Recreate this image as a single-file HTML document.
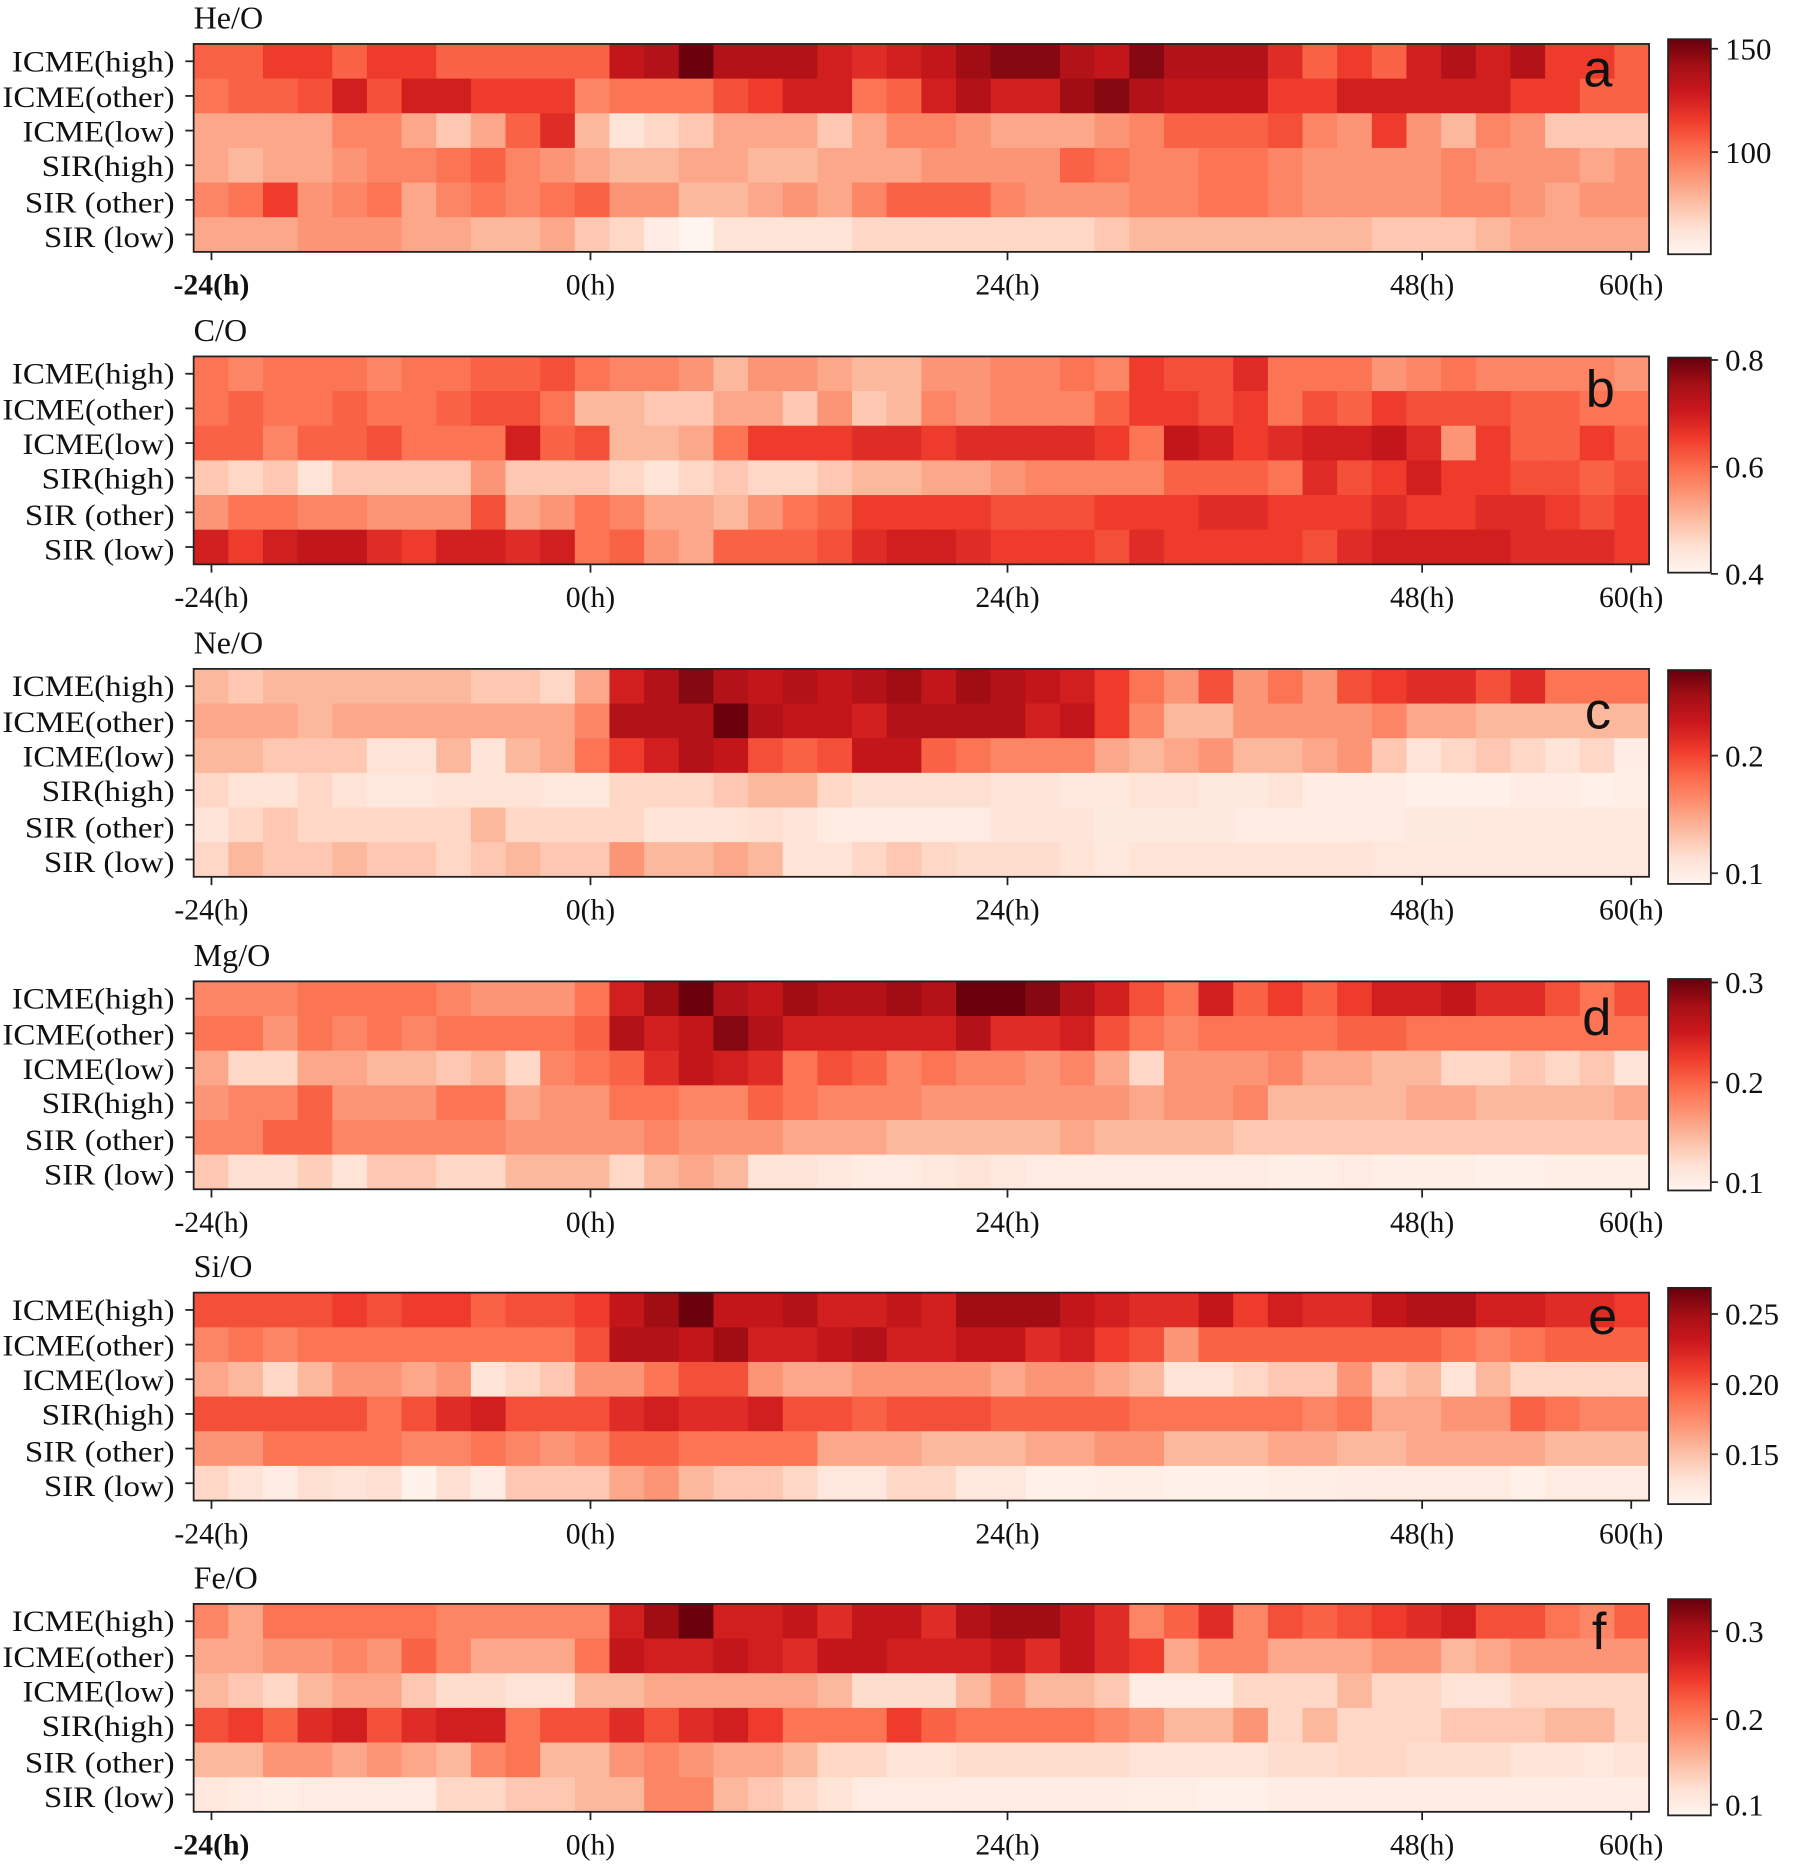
<!DOCTYPE html>
<html><head><meta charset="utf-8"><style>
html,body{margin:0;padding:0;background:#fff;}
svg{display:block;}
text{font-family:"Liberation Serif",serif;fill:#111;}
.lab{font-size:25px;text-anchor:end;}
.tk{font-size:25px;text-anchor:middle;}
.cbt{font-size:26px;}
.ttl{font-size:27px;}
text.let{font-family:"Liberation Sans",sans-serif;font-size:44px;text-anchor:middle;}
</style></head><body>
<svg id="s" width="1794" height="1866" viewBox="0 0 1510 1570.6" preserveAspectRatio="none" xmlns="http://www.w3.org/2000/svg">
<defs>
<linearGradient id="cm" x1="0" y1="1" x2="0" y2="0">
<stop offset="0" stop-color="#fff5f0"/><stop offset="0.125" stop-color="#fee0d2"/><stop offset="0.25" stop-color="#fcbba1"/><stop offset="0.375" stop-color="#fc9272"/><stop offset="0.5" stop-color="#fb6a4a"/><stop offset="0.625" stop-color="#ef3b2c"/><stop offset="0.75" stop-color="#cb181d"/><stop offset="0.875" stop-color="#a50f15"/><stop offset="1" stop-color="#67000d"/>
</linearGradient>
</defs>
<g id="cells"></g>
<g fill="none" stroke="#222" stroke-width="1.5">
<rect x="163" y="37" width="1225" height="175"/><rect x="163" y="300" width="1225" height="175"/><rect x="163" y="563" width="1225" height="175"/><rect x="163" y="826" width="1225" height="175"/><rect x="163" y="1088" width="1225" height="175"/><rect x="163" y="1350" width="1225" height="175"/>
</g>
<g id="ticks" stroke="#222" stroke-width="1.5"></g>
<g stroke="#222" stroke-width="1.5">
<rect x="1404" y="33" width="36" height="181" fill="url(#cm)"/>
<rect x="1404" y="301" width="36" height="181" fill="url(#cm)"/>
<rect x="1404" y="564" width="36" height="180" fill="url(#cm)"/>
<rect x="1404" y="824" width="36" height="178" fill="url(#cm)"/>
<rect x="1404" y="1084" width="36" height="182" fill="url(#cm)"/>
<rect x="1404" y="1346" width="36" height="182" fill="url(#cm)"/>
<path d="M1440 41h6M1440 128h6M1440 303h6M1440 393h6M1440 483h6M1440 636h6M1440 735h6M1440 827h6M1440 911h6M1440 995h6M1440 1106h6M1440 1165h6M1440 1224h6M1440 1373h6M1440 1447h6M1440 1519h6"/>
</g>
<g class="cbt">
<text x="1452" y="50">150</text><text x="1452" y="137">100</text>
<text x="1452" y="312">0.8</text><text x="1452" y="402">0.6</text><text x="1452" y="492">0.4</text>
<text x="1452" y="645">0.2</text><text x="1452" y="744">0.1</text>
<text x="1452" y="836">0.3</text><text x="1452" y="920">0.2</text><text x="1452" y="1004">0.1</text>
<text x="1452" y="1115">0.25</text><text x="1452" y="1174">0.20</text><text x="1452" y="1233">0.15</text>
<text x="1452" y="1382">0.3</text><text x="1452" y="1456">0.2</text><text x="1452" y="1528">0.1</text>
</g>
<g class="ttl">
<text x="163" y="24">He/O</text><text x="163" y="287">C/O</text><text x="163" y="550">Ne/O</text><text x="163" y="813">Mg/O</text><text x="163" y="1075">Si/O</text><text x="163" y="1337">Fe/O</text>
</g>
<g>
<text class="let" x="1345" y="73">a</text><text class="let" x="1347" y="342">b</text><text class="let" x="1345" y="613">c</text><text class="let" x="1344" y="871">d</text><text class="let" x="1349" y="1123">e</text><text class="let" x="1346" y="1388">f</text>
</g>
<g id="labs" class="lab"></g>
<g class="tk">
<text x="178" y="248" font-weight="bold">-24(h)</text><text x="497" y="248">0(h)</text><text x="848" y="248">24(h)</text><text x="1197" y="248">48(h)</text><text x="1373" y="248">60(h)</text>
<text x="178" y="511">-24(h)</text><text x="497" y="511">0(h)</text><text x="848" y="511">24(h)</text><text x="1197" y="511">48(h)</text><text x="1373" y="511">60(h)</text>
<text x="178" y="774">-24(h)</text><text x="497" y="774">0(h)</text><text x="848" y="774">24(h)</text><text x="1197" y="774">48(h)</text><text x="1373" y="774">60(h)</text>
<text x="178" y="1037">-24(h)</text><text x="497" y="1037">0(h)</text><text x="848" y="1037">24(h)</text><text x="1197" y="1037">48(h)</text><text x="1373" y="1037">60(h)</text>
<text x="178" y="1299">-24(h)</text><text x="497" y="1299">0(h)</text><text x="848" y="1299">24(h)</text><text x="1197" y="1299">48(h)</text><text x="1373" y="1299">60(h)</text>
<text x="178" y="1561" font-weight="bold">-24(h)</text><text x="497" y="1561">0(h)</text><text x="848" y="1561">24(h)</text><text x="1197" y="1561">48(h)</text><text x="1373" y="1561">60(h)</text>
</g>
<g class="lab">
<text x="147" y="60" textLength="137" lengthAdjust="spacingAndGlyphs">ICME(high)</text><text x="147" y="90" textLength="145" lengthAdjust="spacingAndGlyphs">ICME(other)</text><text x="147" y="119" textLength="128" lengthAdjust="spacingAndGlyphs">ICME(low)</text><text x="147" y="148" textLength="112" lengthAdjust="spacingAndGlyphs">SIR(high)</text><text x="147" y="179" textLength="126" lengthAdjust="spacingAndGlyphs">SIR (other)</text><text x="147" y="208" textLength="110" lengthAdjust="spacingAndGlyphs">SIR (low)</text>
<text x="147" y="323" textLength="137" lengthAdjust="spacingAndGlyphs">ICME(high)</text><text x="147" y="353" textLength="145" lengthAdjust="spacingAndGlyphs">ICME(other)</text><text x="147" y="382" textLength="128" lengthAdjust="spacingAndGlyphs">ICME(low)</text><text x="147" y="411" textLength="112" lengthAdjust="spacingAndGlyphs">SIR(high)</text><text x="147" y="442" textLength="126" lengthAdjust="spacingAndGlyphs">SIR (other)</text><text x="147" y="471" textLength="110" lengthAdjust="spacingAndGlyphs">SIR (low)</text>
<text x="147" y="586" textLength="137" lengthAdjust="spacingAndGlyphs">ICME(high)</text><text x="147" y="616" textLength="145" lengthAdjust="spacingAndGlyphs">ICME(other)</text><text x="147" y="645" textLength="128" lengthAdjust="spacingAndGlyphs">ICME(low)</text><text x="147" y="674" textLength="112" lengthAdjust="spacingAndGlyphs">SIR(high)</text><text x="147" y="705" textLength="126" lengthAdjust="spacingAndGlyphs">SIR (other)</text><text x="147" y="734" textLength="110" lengthAdjust="spacingAndGlyphs">SIR (low)</text>
<text x="147" y="849" textLength="137" lengthAdjust="spacingAndGlyphs">ICME(high)</text><text x="147" y="879" textLength="145" lengthAdjust="spacingAndGlyphs">ICME(other)</text><text x="147" y="908" textLength="128" lengthAdjust="spacingAndGlyphs">ICME(low)</text><text x="147" y="937" textLength="112" lengthAdjust="spacingAndGlyphs">SIR(high)</text><text x="147" y="968" textLength="126" lengthAdjust="spacingAndGlyphs">SIR (other)</text><text x="147" y="997" textLength="110" lengthAdjust="spacingAndGlyphs">SIR (low)</text>
<text x="147" y="1111" textLength="137" lengthAdjust="spacingAndGlyphs">ICME(high)</text><text x="147" y="1141" textLength="145" lengthAdjust="spacingAndGlyphs">ICME(other)</text><text x="147" y="1170" textLength="128" lengthAdjust="spacingAndGlyphs">ICME(low)</text><text x="147" y="1199" textLength="112" lengthAdjust="spacingAndGlyphs">SIR(high)</text><text x="147" y="1230" textLength="126" lengthAdjust="spacingAndGlyphs">SIR (other)</text><text x="147" y="1259" textLength="110" lengthAdjust="spacingAndGlyphs">SIR (low)</text>
<text x="147" y="1373" textLength="137" lengthAdjust="spacingAndGlyphs">ICME(high)</text><text x="147" y="1403" textLength="145" lengthAdjust="spacingAndGlyphs">ICME(other)</text><text x="147" y="1432" textLength="128" lengthAdjust="spacingAndGlyphs">ICME(low)</text><text x="147" y="1461" textLength="112" lengthAdjust="spacingAndGlyphs">SIR(high)</text><text x="147" y="1492" textLength="126" lengthAdjust="spacingAndGlyphs">SIR (other)</text><text x="147" y="1521" textLength="110" lengthAdjust="spacingAndGlyphs">SIR (low)</text>
</g>
</svg>
<script>
var D=[
[
"5 5 6 6 5 6 6 5 5 5 5 5 7.5 8 9.5 8 8 8 7 6.5 7 7.5 8.5 9 9 8 7.5 9 8 8 8 6.5 5 6 5 7 8 7 8 6 6 5",
"4.5 5 5 5.5 7 5.5 7 7 6 6 6 4 4.5 4.5 4.5 5.5 6 7 7 4.5 5 7 8 7 7 8.5 9 8 7.5 7.5 7.5 6 6 7 7 7 7 7 6 6 5 5",
"3 3 3 3 4 4 3 2 3 5 6.5 2.5 1 1.5 2 3 3 3 2 3 4 4 3.5 3 3 3 3.5 4 5 5 5 5.5 4 3.5 6 3.5 2.5 4 3.5 2 2 2",
"3 2.5 3 3 3.5 4 4 4.5 5 4 3.5 3 2.5 2.5 3 3 2.5 2.5 3 3 3 3.5 3.5 3.5 3.5 5 4.5 4 4 4.5 4.5 4 3.5 3.5 3.5 3.5 4 3.5 3.5 3.5 3 3.5",
"4 4.5 6 3.5 4 4.5 3 4 4.5 4 4.5 5 3.5 3.5 2.5 2.5 3 3.5 3 4 5 5 5 4 3.5 3.5 3.5 4 4 4.5 4.5 4 3.5 3.5 3.5 3.5 4 4 3.5 3 3.5 3.5",
"3 3 3 3.5 3.5 3.5 3 3 2.5 2.5 3 2 1.5 0.5 0 1 1 1 1 1.5 1.5 1.5 1.5 1.5 1.5 1.5 2 2.5 2.5 2.5 2.5 2.5 2.5 2.5 2 2 2 2.5 3 3 3 3"],
[
"4.5 4 4.5 4.5 4.5 4 4.5 4.5 5 5 5.5 4.5 4 4 3.5 2.5 3.5 3.5 3 2.5 2.5 3.5 3.5 4 4 4.5 4 6 5.5 5.5 6.5 4.5 4.5 4.5 3.5 4 4.5 4 4 4 4 3.5",
"4.5 5 4.5 4.5 5 4.5 4.5 5 5.5 5.5 4.5 2.5 2.5 2 2 3 3 2 3.5 2 2.5 4 3.5 4 4 4 5 6 6 5.5 6 4.5 5.5 5 6 5.5 5.5 5.5 5 5 4.5 4.5",
"5 5 4 5 5 5.5 4.5 4.5 4.5 7 5 5.5 2.5 2.5 3 4.5 6 6 6 6.5 6.5 6 6.5 6.5 6.5 6.5 6 4.5 7.5 7 6 6.5 7 7 7.5 6.5 3.5 6 5 5 6 5",
"2 1.5 2 1 2 2 2 2 3.5 2 2 2 1.5 1 1.5 2 1.5 1.5 2 2.5 2.5 3 3 3.5 4 4 4 4 5 5 5 4.5 6.5 5.5 6 7 6 6 5.5 5.5 5 5.5",
"3.5 4.5 4.5 4 4 3.5 3.5 3.5 5.5 3 3.5 4.5 4 3 3 2.5 3.5 4.5 5 6 6 6 6 5.5 5.5 5.5 6 6 6 6.5 6.5 6 6 6 6.5 6 6 6.5 6.5 6 5.5 6",
"7 6 7 7.5 7.5 6.5 6 7 7 6.5 7 4.5 5 3.5 3 5 5 5 5.5 6.5 7 7 6.5 6 6 6 5.5 6.5 6 6 6 6 5.5 6.5 7 7 7 7 6.5 6.5 6.5 6"],
[
"2.5 2 2.5 2.5 2.5 2.5 2.5 2.5 2 2 1.5 3 7 8 9 8 7.5 8 7.5 8 8.5 7.5 8.5 8 7.5 7 6 4.5 3.5 5.5 3.5 4.5 3.5 5.5 6 6.5 6.5 5.5 6.5 4.5 4.5 4.5",
"3 3 3 2.5 3 3 3 3 3 3 3 4 8 8 8 9.5 8 7.5 7.5 7 8 8 8 8 7 7.5 6 4 2.5 2.5 3.5 3.5 3.5 3.5 4 3 3 2.5 2.5 2.5 2.5 2.5",
"2.5 2.5 2 2 2 1 1 2.5 1 2.5 3 4.5 6 7 8 7.5 5.5 5 5.5 7.5 7.5 5 4.5 4 4 4 3 2.5 3 3.5 2.5 2.5 3 3.5 2 1 1.5 2 1.5 1 1.5 0.5",
"1.5 1 1 1.5 1 0.8 0.8 1 1 1 0.8 0.8 1.5 1.5 1.5 2 2.5 2.5 1.5 1.2 1.2 1.2 1.2 1 1 0.8 0.8 1 1 0.7 0.7 1 0.5 0.5 0.5 0.3 0.3 0.3 0.5 0.5 0.3 0.4",
"1 1.5 2 1.5 1.5 1.5 1.5 1.5 2.5 1.5 1.5 1.5 1.5 1 1 1 1.2 1 0.6 0.6 0.6 0.6 0.6 0.9 0.9 0.9 0.7 0.7 0.7 0.7 0.6 0.6 0.6 0.6 0.6 0.7 0.7 0.8 0.8 0.8 0.8 0.8",
"1.5 2.5 2 2 2.5 2 2 1.5 2 2.5 2 2 3.5 2.5 2.5 3 2.5 1 1 1.5 2 1.5 1.3 1.3 1.3 1 0.8 1 1 1 1 1 1 1 0.8 0.8 0.8 0.8 0.8 0.8 0.8 0.8"],
[
"4 4 4 4.5 4.5 4.5 4.5 4 3.5 3.5 3.5 4.5 7 8.5 9.5 8 7.5 8.5 8 8 8.5 8 9.5 9.5 9 8 7 5.5 4.5 7 5 6 5 6 7 7 7.5 6.5 6.5 5.5 4.5 5.5",
"4.5 4.5 3.5 4.5 4 4.5 4 4.5 4.5 4.5 4.5 5 8 7 7.5 9 8 7 7 7 7 7 8 6.5 6.5 7 5.5 4.5 4 4.5 4.5 4.5 4.5 5 5 4.5 4.5 4.5 4.5 4.5 4.5 4.5",
"3 1.5 1.5 3 3 2.5 2.5 2 2.5 1.5 4 4.5 5 6.5 7.5 7 6.5 4.5 5.5 5 4 4.5 4 4 3.5 4 3 1.5 3.5 3.5 3.5 4 3 3 2.5 2.5 1.5 1.5 2 1.5 2 1",
"3.5 4 4 5 3.5 3.5 3.5 4.5 4.5 3 3.5 3.5 4.5 4.5 4 4 5 4.5 4 4 4 3.5 3.5 3.5 3.5 3.5 3.5 3 3.5 3.5 4 2.5 2.5 2.5 2.5 3 3 2.5 2.5 2.5 2.5 3",
"4 4 5 5 4 4 4 4 4 3.5 3.5 3.5 3.5 4 3.5 3.5 3.5 3 3 3 2.5 2.5 2.5 2.5 2.5 3 2.5 2.5 2.5 2.5 2 2 2 2 2 2 2 2 2 2 2 2",
"2 1.2 1.2 1.8 1 2 2 1.5 1.5 2.5 2.5 2.5 1.5 2.5 3 2.5 1 1 0.8 0.6 0.6 0.8 1 0.8 0.6 0.6 0.6 0.6 0.6 0.6 0.6 0.4 0.4 0.6 0.4 0.4 0.4 0.3 0.3 0.4 0.4 0.4"],
[
"5.5 5.5 5.5 5.5 6 5.5 6 6 5 5.5 5.5 6 7.5 8.5 9.5 7.5 7.5 8 7 7 7.5 7 8.5 8.5 8.5 7.5 7 6.5 6.5 7.5 6 7 6.5 6.5 7.5 8 8 7 7 6.5 6.5 6",
"4 4.5 4 4.5 4.5 4.5 4.5 4.5 4.5 4.5 4.5 5.5 8 8 7.5 8.5 7 7 7.5 8 7 7 7.5 7.5 6.5 7 6 5.5 3.5 5 5 5 5 5 5 5 4.5 4 4.5 5 5 5",
"3 2.5 1.5 2.5 3.5 3.5 3 3.5 1 1.5 2 3.5 3.5 4.5 5.5 5.5 3.5 3 3 3.5 3.5 3.5 3.5 3 3.5 3.5 3 2.5 1 1 1.5 2 2 3.5 2 2.5 1 2.5 1.5 1.5 1.5 1.5",
"5.5 5.5 5.5 5.5 5.5 4.5 5.5 6.5 7 5.5 5.5 5.5 6.5 7 6.5 6.5 7 5.5 5.5 5 5.5 5.5 5.5 5 5 5 5 4.5 4.5 4.5 4.5 4.5 4 4.5 3 3 3.5 3.5 5 4.5 4 4",
"3.5 3.5 4.5 4.5 4.5 4.5 4 4 4.5 4 3.5 4 5 5 4.5 4.5 4.5 4.5 3 3 3 2.5 2.5 2.5 3 3 3.5 3.5 2.5 2.5 2.5 3 3 2.5 2.5 3 3 3 3 2.5 2.5 2.5",
"1.5 1 0.5 1.2 1 1.2 0.2 1.2 0.5 2 2 2 3 3.5 2.5 2 2 1.5 0.8 0.8 1.5 1.5 0.8 0.8 0.3 0.3 0.4 0.4 0.3 0.3 0.3 0.4 0.4 0.5 0.6 0.6 0.6 0.6 0.3 0.6 0.6 0.6"],
[
"4 3 4.5 4.5 4.5 4.5 4.5 4 4 4 4 4 7 8.5 9.5 7 7 7.5 6.5 7.5 7.5 6.5 8 8.5 8.5 7.5 6.5 4 5 6.5 4 5.5 5 5.5 6 6.5 7 5.5 5.5 4.5 4 5",
"3 3 3.5 3.5 4 3.5 5 4 3 3 3 4.5 7.5 7 7 7.5 7 6.5 7.5 7.5 7 7 7 7.5 6.5 7.5 6.5 6 3 4 4 3 3 3 3.5 3.5 2.5 3 3.5 3.5 3.5 3.5",
"2.5 2 1.5 2.5 3 3 2 1.3 1.3 1 1 2.5 2.5 3 3 3 3 3 2.5 1.3 1.3 1.3 2.5 3.5 2.5 2.5 2 0.6 0.6 0.6 1.5 1.5 1.5 2.5 1.5 1.5 1 1 1.5 1.5 1.5 1.5",
"5.5 6 5 6.5 7 5.5 6.5 7 7 4.5 5.5 5.5 6.5 5.5 6.5 7 6 4.5 4.5 4.5 6 5 4.5 4.5 4.5 4.5 4 3.5 2.5 2.5 3.5 1.5 2.5 1.5 1.5 1.5 2 2 2 2.5 2.5 1.5",
"2.5 2.5 3.5 3.5 3 3.5 3 2.5 4 4.5 2.5 2.5 3.5 4 3.5 3 3 2.5 1.5 1.5 1 1 1.3 1.3 1.3 1.3 1.3 1 1 1 1 1.3 1.3 1.5 1.5 1.3 1.3 1.3 1 1 0.8 1",
"0.8 0.6 0.4 0.6 0.6 0.6 0.6 1.5 1.5 2 2 2.5 2.5 4 4 2.5 2 1.5 1 0.6 0.6 0.6 0.5 0.5 0.5 0.5 0.5 0.4 0.4 0.3 0.3 0.5 0.5 0.5 0.5 0.5 0.5 0.5 0.5 0.5 0.5 0.5"]
];
var S=[[255,245,240],[254,224,210],[252,187,161],[252,146,114],[251,106,74],[239,59,44],[203,24,29],[165,15,21],[103,0,13]];
function col(t){t=Math.max(0,Math.min(1,t))*8;var i=Math.min(7,Math.floor(t)),f=t-i,a=S[i],b=S[i+1];
return "rgb("+[0,1,2].map(function(k){return Math.round(a[k]+(b[k]-a[k])*f)}).join(",")+")";}
var tops=[37,300,563,826,1088,1350],g=document.getElementById("cells"),tk=document.getElementById("ticks");
var cw=1225/42,rh=175/6,out="";
for(var p=0;p<6;p++){for(var r=0;r<6;r++){var v=D[p][r].split(/\s+/).map(Number);
for(var c=0;c<42;c++){out+='<rect x="'+(163+c*cw).toFixed(2)+'" y="'+(tops[p]+r*rh).toFixed(2)+'" width="'+(cw+0.6).toFixed(2)+'" height="'+(rh+0.6).toFixed(2)+'" fill="'+col((v[c]||0)/9.6)+'"/>';}}}
g.innerHTML=out;
var t="";
for(var p=0;p<6;p++){for(var r=0;r<6;r++){var y=tops[p]+rh*(r+0.5);t+='<line x1="156" x2="163" y1="'+y+'" y2="'+y+'"/>';}
[178,497,848,1197,1373].forEach(function(x){t+='<line x1="'+x+'" x2="'+x+'" y1="'+(tops[p]+175)+'" y2="'+(tops[p]+182)+'"/>';});}
tk.innerHTML=t;
</script>
</body></html>
